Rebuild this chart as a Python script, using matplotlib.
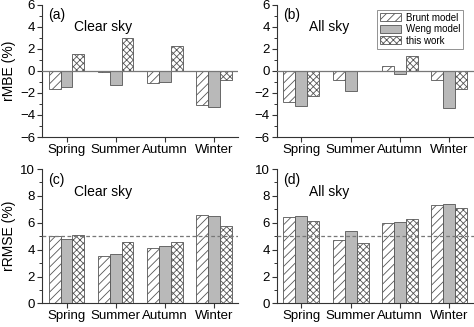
import numpy as np
import matplotlib.pyplot as plt
from matplotlib.patches import Patch

plt.rcParams['font.family'] = ['Liberation Sans', 'DejaVu Sans']
plt.rcParams['hatch.linewidth'] = 0.6
plt.rcParams['hatch.color'] = '#555555'

# data
seasons = ['Spring', 'Summer', 'Autumn', 'Winter']
models = ['Brunt model', 'Weng model', 'this work']

mbe_clear = {
    'Brunt model': [-1.6, -0.05, -1.1, -3.1],
    'Weng model': [-1.45, -1.3, -1.0, -3.3],
    'this work': [1.55, 2.95, 2.3, -0.8],
}
mbe_all = {
    'Brunt model': [-2.8, -0.8, 0.45, -0.85],
    'Weng model': [-3.2, -1.85, -0.25, -3.4],
    'this work': [-2.25, 0.0, 1.4, -1.6],
}
rmse_clear = {
    'Brunt model': [5.0, 3.5, 4.1, 6.55],
    'Weng model': [4.8, 3.65, 4.25, 6.5],
    'this work': [5.1, 4.6, 4.55, 5.75],
}
rmse_all = {
    'Brunt model': [6.4, 4.7, 6.0, 7.33],
    'Weng model': [6.5, 5.4, 6.05, 7.43],
    'this work': [6.1, 4.5, 6.3, 7.08],
}

styles = {
    'Brunt model': dict(facecolor='white', hatch='////'),
    'Weng model': dict(facecolor='#b9b9b9', hatch=None),
    'this work': dict(facecolor='white', hatch='xxxxx'),
}

fig = plt.figure(figsize=(4.74, 3.27), dpi=100)

W = 0.243
x = np.arange(1, 5)


def panel(rect, data, tag, sky, ylim, yticks, refline, ylabel=None):
    ax = fig.add_axes(rect)
    for i, m in enumerate(models):
        ax.bar(x + (i - 1) * W, data[m], W, edgecolor='#555555',
               linewidth=0.6, zorder=2, **styles[m])
    if refline == 0:
        ax.axhline(0, color='#777777', lw=0.9, zorder=3)
    else:
        ax.axhline(refline, color='#777777', lw=0.9, ls=(0, (3, 2)), zorder=3)
    ax.set_xlim(0.5, 4.5)
    ax.set_ylim(*ylim)
    ax.set_yticks(yticks)
    ax.set_yticks(np.arange(ylim[0], ylim[1] + 0.1, 1), minor=True)
    ax.set_xticks(x)
    ax.set_xticklabels(seasons)
    for s in ['top', 'right']:
        ax.spines[s].set_visible(False)
    for s in ['left', 'bottom']:
        ax.spines[s].set_color('#333333')
        ax.spines[s].set_linewidth(0.8)
    ax.tick_params(direction='out', length=3.5, width=0.8, labelsize=9.5,
                   color='#333333', pad=1.5)
    ax.tick_params(which='minor', length=2, width=0.7, color='#333333')
    ax.tick_params(axis='x', pad=1.5)
    ax.text(0.03, 0.92, tag, transform=ax.transAxes, fontsize=10, va='center')
    ax.text(0.165, 0.83, sky, transform=ax.transAxes, fontsize=10, va='center')
    if ylabel:
        ax.set_ylabel(ylabel, fontsize=10, labelpad=3)
    return ax


panel([0.0886, 0.581, 0.414, 0.404], mbe_clear, '(a)', 'Clear sky',
      (-6, 6), np.arange(-6, 7, 2), 0, 'rMBE (%)')
axb = panel([0.584, 0.581, 0.416, 0.404], mbe_all, '(b)', 'All sky',
            (-6, 6), np.arange(-6, 7, 2), 0)
panel([0.0886, 0.072, 0.414, 0.411], rmse_clear, '(c)', 'Clear sky',
      (0, 10), np.arange(0, 11, 2), 5, 'rRMSE (%)')
panel([0.584, 0.072, 0.416, 0.411], rmse_all, '(d)', 'All sky',
      (0, 10), np.arange(0, 11, 2), 5)

handles = [Patch(edgecolor='#555555', linewidth=0.6, label=m, **styles[m])
           for m in models]
leg = axb.legend(handles=handles, loc='upper right', bbox_to_anchor=(0.97, 1.0),
                 fontsize=7, frameon=True, fancybox=False, handlelength=2.2,
                 handleheight=0.9, handletextpad=0.5, borderpad=0.3,
                 labelspacing=0.15)
leg.get_frame().set_edgecolor('#777777')
leg.get_frame().set_linewidth(0.7)

fig.savefig('out.png', dpi=100)
